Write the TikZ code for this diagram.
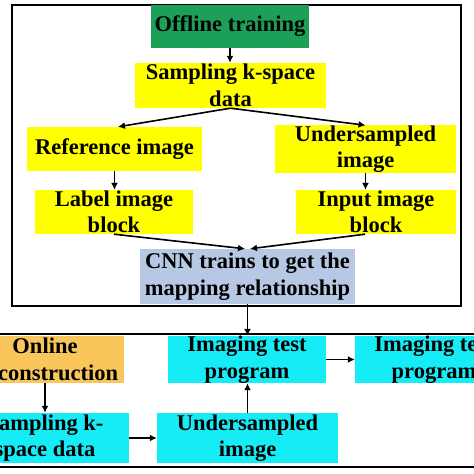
\documentclass[tikz,border=0pt]{standalone}
\usepackage{fontspec}
\setmainfont{Liberation Serif}
\usetikzlibrary{arrows.meta,calc}
\definecolor{offgreen}{RGB}{28,160,88}
\definecolor{boxyellow}{RGB}{255,255,0}
\definecolor{cnnblue}{RGB}{182,200,228}
\definecolor{onlorange}{RGB}{249,198,92}
\definecolor{boxcyan}{RGB}{22,236,246}
\newcommand\boxfont{\fontsize{22.5}{26.5}\selectfont\bfseries}
\tikzset{
  blk/.style={inner sep=0pt, align=center, font=\boxfont, text=black},
  frame/.style={draw=black, line width=2pt},
  arr/.style={draw=black, line width=1.6pt, -{Latex[length=7pt,width=7pt]}},
}
\begin{document}
\begin{tikzpicture}[x=1pt,y=-1pt]
\useasboundingbox (0,0) rectangle (474,474);
\fill[white] (0,0) rectangle (474,474);
% frames
\draw[frame] (12,5) rectangle (461,306);
\draw[frame] (-5,334) rectangle (479,467);
% offline part
\node[blk, fill=offgreen, minimum width=158pt, minimum height=43pt] (off) at (230,26.5) {Offline training};
\node[blk, fill=boxyellow, minimum width=191pt, minimum height=45pt] (samp) at (230.5,85.5) {Sampling k-space\\data};
\node[blk, fill=boxyellow, minimum width=175pt, minimum height=44pt] (ref) at (114.5,149) {Reference image};
\node[blk, fill=boxyellow, minimum width=181pt, minimum height=44pt] (und) at (365.5,149) {Undersampled\\image};
\node[blk, fill=boxyellow, minimum width=158pt, minimum height=44pt] (lab) at (114,212) {Label image\\block};
\node[blk, fill=boxyellow, minimum width=160pt, minimum height=44pt] (inp) at (376,212) {Input image\\block};
\node[blk, fill=cnnblue, minimum width=215pt, minimum height=55pt] (cnn) at (247.5,276.5) {CNN trains to get the\\mapping relationship};
% online part
\node[blk, fill=onlorange, minimum width=158pt, minimum height=47pt] (onl) at (45,359.5) {Online\\Reconstruction};
\node[blk, fill=boxcyan, minimum width=168pt, minimum height=50pt] (s2) at (45,438) {Sampling k-\\space data};
\node[blk, fill=boxcyan, minimum width=181pt, minimum height=50pt] (u2) at (247.5,438) {Undersampled\\image};
\node[blk, fill=boxcyan, minimum width=158pt, minimum height=47pt] (it) at (247,359.5) {Imaging test\\program};
\node[blk, fill=boxcyan, minimum width=158pt, minimum height=47pt] (it2) at (434,359.5) {Imaging test\\program};
% connectors
\draw[arr] (off.south) -- (off.south |- samp.north);
\draw[arr] (samp.south) -- ($(ref.north)+(3.5,0)$);
\draw[arr] (samp.south) -- (und.north);
\draw[arr] (ref.south) -- (ref.south |- lab.north);
\draw[arr] (und.south) -- (und.south |- inp.north);
\draw[arr] (lab.south) -- ($(cnn.north)+(-2.5,0)$);
\draw[arr] ($(inp.south)+(-11,0)$) -- ($(cnn.north)+(2.5,0)$);
\draw[arr] (cnn.south) -- (cnn.south |- it.north);
\draw[arr] (onl.south) -- (onl.south |- s2.north);
\draw[arr] (s2.east) -- (u2.west);
\draw[arr] (u2.north) -- (u2.north |- it.south);
\draw[arr] (it.east) -- (it2.west);
\end{tikzpicture}
\end{document}
